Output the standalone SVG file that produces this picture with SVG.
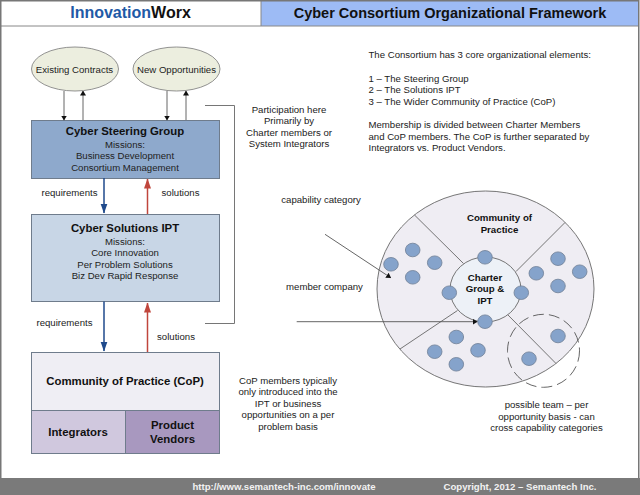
<svg xmlns="http://www.w3.org/2000/svg" width="640" height="495" viewBox="0 0 640 495">
<style>
text{font-family:"Liberation Sans",Arial,sans-serif;fill:#222;text-anchor:middle;font-size:9.6px}
.s{text-anchor:start}
.b{font-weight:bold;fill:#111;font-size:11.4px}
.m{font-weight:bold;fill:#111;font-size:9.7px}
.f{font-size:9.6px;font-weight:bold;fill:#f2f2f2}
.n{fill:#85a3cb;stroke:#6f7f95;stroke-width:.8}
.box{stroke:#6f7c8c;stroke-width:1}
.thin{fill:none;stroke:#666;stroke-width:.9}
.c{fill:none;stroke-width:1.5}
</style>
<defs>
<marker id="k" markerWidth="5" markerHeight="6" refX="4.5" refY="3" orient="auto" markerUnits="userSpaceOnUse"><path d="M0 0L5 3L0 6Z" fill="#111"/></marker>
<marker id="bl" markerWidth="10" markerHeight="8" refX="9.500" refY="3.500" orient="auto" markerUnits="userSpaceOnUse"><path d="M0 0L10 3.500L0 7Z" fill="#1f4a8c"/></marker>
<marker id="rd" markerWidth="10" markerHeight="8" refX="9.500" refY="3.500" orient="auto" markerUnits="userSpaceOnUse"><path d="M0 0L10 3.500L0 7Z" fill="#c0463c"/></marker>
</defs>
<rect width="640" height="495" fill="#fff"/>
<g id="header">
<rect x="261" y="1" width="378" height="25" fill="#9dbbf5"/>
<path d="M0 26H639M261 1V26" stroke="#888" stroke-width="1" fill="none"/>
<text x="130.500" y="18" style="font-size:16px;font-weight:bold;fill:#111"><tspan fill="#1f5aa6">Innovation</tspan>Worx</text>
<text x="450" y="18" style="font-size:14.500px;font-weight:bold;fill:#111">Cyber Consortium Organizational Framework</text>
</g>
<rect x=".75" y=".75" width="638" height="493" fill="none" stroke="#777" stroke-width="1.5"/>
<g id="footer">
<rect x="0" y="478" width="640" height="17" fill="#7a7a7a"/>
<text class="f" x="284" y="490">http://www.semantech-inc.com/innovate</text>
<text class="f" x="520" y="490">Copyright, 2012 – Semantech Inc.</text>
</g>
<g id="existing-contracts"><ellipse cx="75" cy="69" rx="43.500" ry="22" fill="#eceedf" stroke="#777" stroke-width=".8"/><text x="74.500" y="72.500">Existing Contracts</text></g>
<g id="new-opportunities"><ellipse cx="176.500" cy="69" rx="43.500" ry="22" fill="#eceedf" stroke="#777" stroke-width=".8"/><text x="176.500" y="72.500">New Opportunities</text></g>
<g id="steering-group"><rect class="box" x="31.500" y="120.500" width="188" height="58" fill="#8ea9cc"/>
<text class="b" x="125" y="135">Cyber Steering Group</text><text x="125" y="147.500">Missions:</text><text x="125" y="159">Business Development</text><text x="125" y="170.500">Consortium Management</text></g>
<g id="solutions-ipt"><rect class="box" x="31.500" y="214.500" width="188" height="87" fill="#c8d6e6"/>
<text class="b" x="125" y="232">Cyber Solutions IPT</text><text x="125" y="244.500">Missions:</text><text x="125" y="256">Core Innovation</text><text x="125" y="267.500">Per Problem Solutions</text><text x="125" y="279">Biz Dev Rapid Response</text></g>
<g id="cop"><rect class="box" x="31.500" y="352.500" width="188" height="58" fill="#efeef4"/><text class="b" x="125" y="385">Community of Practice (CoP)</text></g>
<g id="integrators"><rect class="box" x="31.500" y="410.500" width="94" height="43" fill="#d0c8de"/><text class="b" x="78" y="436">Integrators</text></g>
<g id="vendors"><rect class="box" x="125.500" y="410.500" width="94" height="43" fill="#a898bf"/><text class="b" x="172.500" y="429">Product</text><text class="b" x="172.500" y="443">Vendors</text></g>
<g id="connectors">
<g stroke="#666" stroke-width="1" fill="none">
<path d="M64 91V120" marker-end="url(#k)"/><path d="M83 120V91" marker-end="url(#k)"/>
<path d="M167 91V120" marker-end="url(#k)"/><path d="M186 120V91" marker-end="url(#k)"/>
</g>
<path class="c" stroke="#1f4a8c" d="M104 178V213" marker-end="url(#bl)"/>
<path class="c" stroke="#c0463c" d="M147.500 214V179" marker-end="url(#rd)"/>
<path class="c" stroke="#1f4a8c" d="M104 301.500V351" marker-end="url(#bl)"/>
<path class="c" stroke="#c0463c" d="M147.500 352V303" marker-end="url(#rd)"/>
<path class="thin" d="M205 105.500H234.500V323.500H205"/>
</g>
<text x="180.500" y="196">solutions</text>
<text x="69.500" y="196">requirements</text>
<text x="64.500" y="326">requirements</text>
<text x="176" y="340">solutions</text>
<g id="notes">
<text x="289" y="112.500">Participation here</text><text x="289" y="124">Primarily by</text><text x="289" y="135.500">Charter members or</text><text x="289" y="147">System Integrators</text>
<text class="s" x="368.500" y="58">The Consortium has 3 core organizational elements:</text>
<text class="s" x="368.500" y="81.500">1 – The Steering Group</text>
<text class="s" x="368.500" y="93">2 – The Solutions IPT</text>
<text class="s" x="368.500" y="104.500">3 – The Wider Community of Practice (CoP)</text>
<text class="s" x="368.500" y="128">Membership is divided between Charter Members</text>
<text class="s" x="368.500" y="139.500">and CoP members. The CoP is further separated by</text>
<text class="s" x="368.500" y="151">Integrators vs. Product Vendors.</text>
<text x="321" y="202.500">capability category</text>
<text x="324.500" y="289.500">member company</text>
<text x="288" y="383.500">CoP members typically</text><text x="288" y="395">only introduced into the</text><text x="288" y="406.500">IPT or business</text><text x="288" y="418">opportunities on a per</text><text x="288" y="429.500">problem basis</text>
<text x="546.500" y="408">possible team – per</text><text x="546.500" y="419.500">opportunity basis - can</text><text x="546.500" y="431">cross capability categories</text>
</g>
<g id="community-circle">
<ellipse cx="485.500" cy="289" rx="108.500" ry="98" fill="#efedf3" stroke="#666" stroke-width=".9"/>
<path class="thin" d="M414.500 215L463.500 263.500M565 222.500L516 271.500M400 349L457.500 310.500M507.500 314.500L556 363.500"/>
<text class="m" x="499.500" y="221">Community of</text><text class="m" x="499.500" y="232.500">Practice</text>
</g>
<g id="charter-group"><ellipse cx="485.500" cy="289.500" rx="35.500" ry="32.500" fill="#edf1f7" stroke="#666" stroke-width=".9"/>
<text class="m" x="485" y="280.500">Charter</text><text class="m" x="485" y="292">Group &amp;</text><text class="m" x="485" y="303.500">IPT</text></g>
<g id="members">
<ellipse class="n" cx="412.700" cy="250" rx="7.300" ry="6.800"/><ellipse class="n" cx="391" cy="264.300" rx="7.300" ry="6.800"/><ellipse class="n" cx="434.700" cy="262.700" rx="7.300" ry="6.800"/><ellipse class="n" cx="412.700" cy="277.300" rx="7.300" ry="6.800"/>
<ellipse class="n" cx="485" cy="257.300" rx="7.300" ry="6.800"/><ellipse class="n" cx="449.300" cy="292.700" rx="7.300" ry="6.800"/><ellipse class="n" cx="521.300" cy="292.700" rx="7.300" ry="6.800"/><ellipse class="n" cx="485" cy="321.700" rx="7.300" ry="6.800"/>
<ellipse class="n" cx="558" cy="258.700" rx="7.300" ry="6.800"/><ellipse class="n" cx="536.300" cy="273.300" rx="7.300" ry="6.800"/><ellipse class="n" cx="579.700" cy="271.700" rx="7.300" ry="6.800"/><ellipse class="n" cx="558" cy="286" rx="7.300" ry="6.800"/>
<ellipse class="n" cx="456.300" cy="337" rx="7.300" ry="6.800"/><ellipse class="n" cx="434.700" cy="351.700" rx="7.300" ry="6.800"/><ellipse class="n" cx="478" cy="350.300" rx="7.300" ry="6.800"/><ellipse class="n" cx="456.300" cy="364.300" rx="7.300" ry="6.800"/>
<ellipse class="n" cx="558" cy="336" rx="7.300" ry="6.800"/><ellipse class="n" cx="529" cy="358.700" rx="7.300" ry="6.800"/>
</g>
<g id="team"><ellipse cx="543.500" cy="350.800" rx="36" ry="36.500" fill="none" stroke="#555" stroke-width=".9" stroke-dasharray="11 5"/></g>
<g id="pointers">
<path stroke="#555" stroke-width=".9" fill="none" d="M325 234.300L390.700 277.700" marker-end="url(#k)"/>
<path stroke="#555" stroke-width=".9" fill="none" d="M296.700 321.700H477" marker-end="url(#k)"/>
</g>
</svg>
